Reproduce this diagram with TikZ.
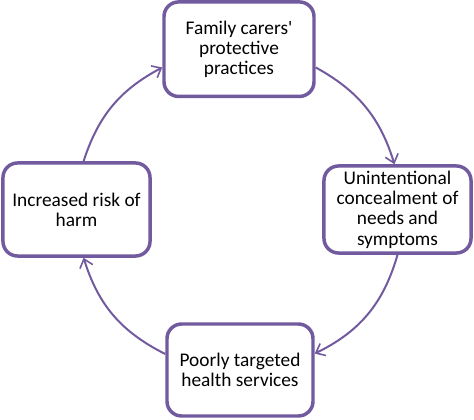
\documentclass[tikz,border=0pt]{standalone}
\usepackage{fontspec}
\setmainfont{Carlito}[Ligatures=TeXOff]
\usetikzlibrary{arrows.meta}
\definecolor{cyclepurple}{RGB}{114,90,158}

\begin{document}
\begin{tikzpicture}[x=0.75pt,y=0.75pt,
  stagebox/.style={draw=cyclepurple,line width=2.6pt,rounded corners=11pt,fill=white,
    align=center,inner sep=0pt,font=\fontsize{14.5}{15.2}\selectfont},
  cyclearrow/.style={draw=cyclepurple,line width=1.5pt,
    -{Straight Barb[length=6pt,width=10pt,line width=1.2pt]}}]
\useasboundingbox (0,0) rectangle (474,420);

%Shape: Rounded Rect [id:top]
\node[stagebox,minimum width=112.5pt,minimum height=70.9pt] (carers) at (239,370.8) {Family carers'\\protective\\practices};
%Shape: Rounded Rect [id:right]
\node[stagebox,minimum width=110.3pt,minimum height=65.3pt] (conceal) at (397.5,210.5) {Unintentional\\concealment of\\needs and\\symptoms};
%Shape: Rounded Rect [id:bottom]
\node[stagebox,minimum width=109.5pt,minimum height=69pt] (services) at (240,50) {Poorly targeted\\health services};
%Shape: Rounded Rect [id:left]
\node[stagebox,minimum width=110.3pt,minimum height=69.8pt] (harm) at (76.5,210.5) {Increased risk of\\harm};

%Curve Lines
\draw[cyclearrow] ([xshift=5.3pt]harm.north) to[bend left=22] ([yshift=-13.7pt]carers.west);
\draw[cyclearrow] ([yshift=-13.7pt]carers.east) to[bend left=22] ([xshift=-2.3pt]conceal.north);
\draw[cyclearrow] (conceal.south) to[bend left=24] ([yshift=12.3pt]services.east);
\draw[cyclearrow] ([yshift=12pt]services.west) to[bend left=23] ([xshift=5.3pt]harm.south);

\end{tikzpicture}
\end{document}
